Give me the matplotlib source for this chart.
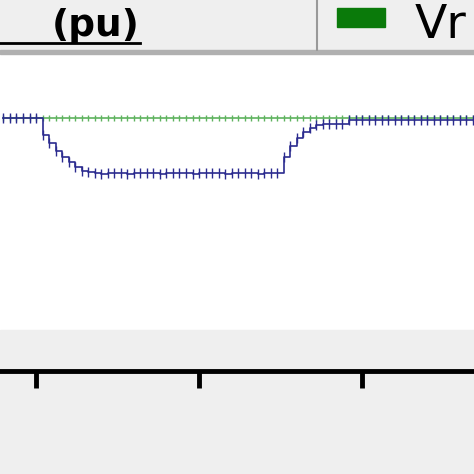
import numpy as np
import matplotlib
matplotlib.use("Agg")
import matplotlib.pyplot as plt
from matplotlib.patches import Rectangle

t = 0.08 + 0.004 * np.arange(73)
v_blue = ([1.0]*6 + [0.97, 0.955, 0.94, 0.93, 0.92, 0.912, 0.905, 0.902]
          + [0.9, 0.899, 0.9, 0.901, 0.9, 0.899, 0.9, 0.9, 0.901, 0.9, 0.899, 0.9, 0.9, 0.901,
             0.9, 0.899, 0.9, 0.9, 0.901, 0.9, 0.899, 0.9, 0.9, 0.901, 0.9, 0.899, 0.9, 0.9, 0.9]
          + [0.93, 0.95, 0.965, 0.975, 0.983, 0.988, 0.99, 0.99, 0.99, 0.99]
          + [0.997]*20)
v_green = [1.0]*73
xticks = [0.1, 0.2, 0.3]
legend_labels = ["(pu)", "Vr"]

W = 474
fig = plt.figure(figsize=(4.74, 4.74), dpi=100)
bg = fig.add_axes([0, 0, 1, 1])
bg.set_xlim(0, W); bg.set_ylim(W, 0); bg.axis("off")
bg.add_patch(Rectangle((0, 0), W, 50, color="#efefef"))
bg.add_patch(Rectangle((0, 50), W, 4, color="#b0b0b0"))
bg.add_patch(Rectangle((0, 330), W, 144, color="#efefef"))
bg.plot([317, 317], [0, 50], color="#999999", lw=1.5)
bg.add_patch(Rectangle((337, 8), 48, 19, color="#0a7a0a"))
bg.text(140, 36, legend_labels[0], fontsize=27, fontweight="bold", ha="right", va="baseline")
bg.plot([0, 140], [43, 43], color="black", lw=2)
bg.text(415, 38, legend_labels[1], fontsize=34, ha="left", va="baseline")

ax = fig.add_axes([0, (474-330)/474, 1, 275/474])
ax.set_facecolor("none")
ax.set_xlim(0.0779, 0.0779 + 474/1630)
ax.set_ylim(1.115 - 0.5, 1.115)
ax.axis("off")
ax.step(t, v_green, where="post", color="#5fb35f", lw=1.2)
ax.plot(t, v_green, ls="none", marker="|", color="#5fb35f", ms=4)
ax.step(t, v_blue, where="post", color="#2b2b8f", lw=1.2)
ax.plot(t, v_blue, ls="none", marker="|", color="#2b2b8f", ms=7)

axb = fig.add_axes([0, 0, 1, 1], facecolor="none")
axb.set_xlim(ax.get_xlim()); axb.set_ylim(W, 0)
for s in ["top", "right", "left", "bottom"]:
    axb.spines[s].set_visible(False)
axb.axhline(371, color="black", lw=3.5)
axb.set_yticks([])
axb.set_xticks([])
axb.vlines(xticks, 371, 388, color="black", lw=3.5)
fig.savefig("out.png", dpi=100)
